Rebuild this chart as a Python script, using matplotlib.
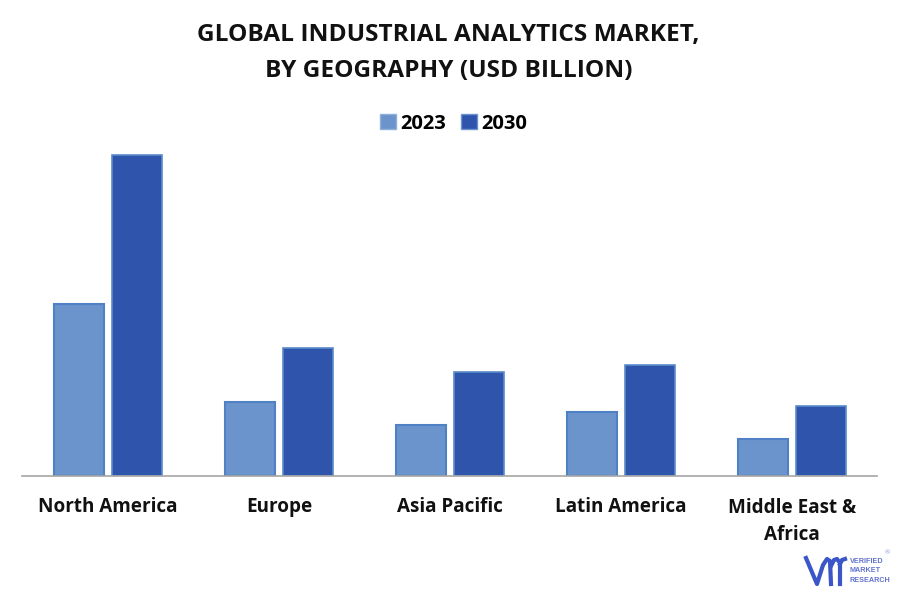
import numpy as np
import matplotlib
matplotlib.use('Agg')
import matplotlib.pyplot as plt
from matplotlib.lines import Line2D
from matplotlib.patches import Patch

plt.rcParams['font.family'] = ['Open Sans', 'DejaVu Sans']

categories = ['North America', 'Europe', 'Asia Pacific', 'Latin America', 'Middle East &\nAfrica']
values_2023 = [172, 74, 51, 64, 37]
values_2030 = [321, 128, 104, 111, 70]

W, H = 901, 599
fig = plt.figure(figsize=(W / 100, H / 100), dpi=100)
ax = fig.add_axes([22 / W, 1 - 476 / H, 855 / W, 340 / H])

x = np.arange(len(categories))
bar_w = 0.292
off = 0.17
ax.bar(x - off, values_2023, bar_w, color='#6a94cb', edgecolor='#4f81c4', linewidth=1.5, label='2023')
ax.bar(x + off, values_2030, bar_w, color='#2e54ac', edgecolor='#5b8bcb', linewidth=1.2, label='2030')

ax.set_xlim(-0.504, 4.496)
ax.set_ylim(0, 340)
ax.set_yticks([])
for s in ['top', 'left', 'right']:
    ax.spines[s].set_visible(False)
ax.spines['bottom'].set_color('#a6a6a6')
ax.spines['bottom'].set_linewidth(1.2)
ax.set_xticks([])

# category labels, placed by baseline so one-line labels stay level
for i, cat in enumerate(categories):
    base_px = 512 + 28 * cat.count('\n')
    ax.text(i, (476 - base_px) / 340, cat, transform=ax.get_xaxis_transform(), ha='center', va='baseline',
            multialignment='center', fontsize=13.6, fontweight='bold', color='#111111', linespacing=1.47)

fig.text(448.5 / W, 1 - 53 / H, 'GLOBAL INDUSTRIAL ANALYTICS MARKET,\nBY GEOGRAPHY (USD BILLION)',
         ha='center', va='center', fontsize=17.6, fontweight='bold', color='#111111', linespacing=1.65)

handles = [Patch(facecolor='#6a94cb', edgecolor='#8fb0da', label='2023'),
           Patch(facecolor='#2e54ac', edgecolor='#6d94cf', label='2030')]
fig.legend(handles=handles, loc='center', bbox_to_anchor=(453.5 / W, 1 - 123.5 / H), ncol=2, frameon=False,
           prop={'size': 14.5, 'weight': 'bold'}, handlelength=0.8, handleheight=0.8,
           handletextpad=0.22, columnspacing=0.75)

# logo
logo_paths = [([806, 817, 823, 827, 830, 831], [558, 584, 565, 559, 561, 584]),
              ([831, 834, 837, 840, 840], [566, 560, 559, 563, 584]),
              ([840, 842, 845], [564, 560, 559])]
for px, py in logo_paths:
    fig.add_artist(Line2D(np.array(px) / W, 1 - np.array(py) / H, color='#3a56c8', linewidth=3,
                          solid_joinstyle='round'))
fig.text(850 / W, 1 - 571 / H, 'VERIFIED\nMARKET\nRESEARCH', ha='left', va='center', fontsize=5.2,
         fontweight='bold', color='#6173cf', linespacing=1.45,
         family=['Liberation Sans', 'DejaVu Sans'])
fig.text(887 / W, 1 - 553 / H, '®', ha='center', va='center', fontsize=4.5, color='#8a96d8')

fig.savefig('out.png', dpi=100)
